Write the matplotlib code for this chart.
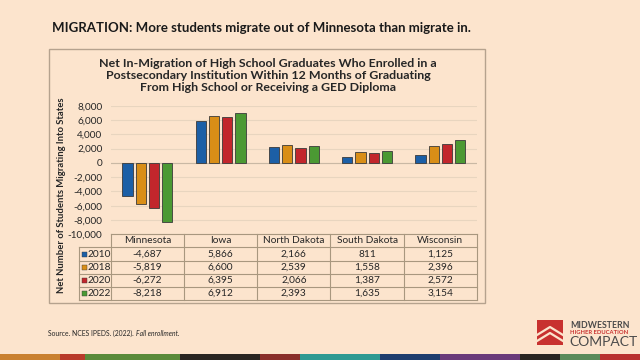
import matplotlib.pyplot as plt
import matplotlib.patches as mpatches
import numpy as np

# dados
states = ['Minnesota', 'Iowa', 'North Dakota', 'South Dakota', 'Wisconsin']
years = ['2010', '2018', '2020', '2022']
v2010 = [-4687, 5866, 2166, 811, 1125]
v2018 = [-5819, 6600, 2539, 1558, 2396]
v2020 = [-6272, 6395, 2066, 1387, 2572]
v2022 = [-8218, 6912, 2393, 1635, 3154]
series = [v2010, v2018, v2020, v2022]
colors = ['#1C5FA6', '#D98E17', '#C2262C', '#4B9933']
yticks = [8000, 6000, 4000, 2000, 0, -2000, -4000, -6000, -8000, -10000]

bg = '#FCE4CD'
txt = '#262626'
line_c = '#A8977F'
W, H = 640, 360

plt.rcParams['font.family'] = ['Lato', 'DejaVu Sans']


def fx(x):
    return x / W


def fy(y):
    return 1 - y / H


fig = plt.figure(figsize=(6.4, 3.6), dpi=100)
fig.patch.set_facecolor(bg)

# titulo do slide
fig.text(fx(52), fy(28), 'MIGRATION: More students migrate out of Minnesota than migrate in.',
         fontsize=9.5, fontweight='bold', color='#1a1a1a', ha='left', va='center')

# caixa do grafico
box = mpatches.Rectangle((fx(49), fy(303)), (485 - 49) / W, (303 - 49) / H,
                         transform=fig.transFigure, facecolor=bg, edgecolor='#B5A28E',
                         linewidth=1.0, zorder=-5)
fig.patches.append(box)

fig.text(fx(268), fy(75.5),
         'Net In-Migration of High School Graduates Who Enrolled in a\n'
         'Postsecondary Institution Within 12 Months of Graduating\n'
         'From High School or Receiving a GED Diploma',
         fontsize=8.9, fontweight='bold', color=txt, ha='center', va='center',
         multialignment='center', linespacing=1.1)

# eixo das barras
left, right = 110.7, 477
top, bottom = 105.7, 234.3
ax = fig.add_axes([fx(left), fy(bottom), (right - left) / W, (bottom - top) / H])
ax.set_facecolor(bg)
x = np.arange(len(states))
step = 0.1815
width = 0.14
for i, vals in enumerate(series):
    ax.bar(x + (i - 1.5) * step, vals, width=width, color=colors[i],
           edgecolor='#3a3a3a', linewidth=0.6, zorder=3)
ax.set_xlim(-0.5, 4.5)
ax.set_ylim(-10000, 8000)
ax.set_yticks(yticks)
ax.set_yticklabels([f'{t:,}' for t in yticks], fontsize=7.2, color=txt)
ax.tick_params(axis='y', length=0, pad=6)
ax.set_xticks([])
ax.grid(axis='y', color='#E8D5BF', linewidth=0.8, zorder=0)
ax.axhline(0, color='#C9B8A4', linewidth=0.8, zorder=2)
for s in ax.spines.values():
    s.set_visible(False)

fig.text(fx(62), fy(195), 'Net Number of Students Migrating Into States',
         rotation=90, fontsize=6.8, fontweight='bold', color=txt, ha='center', va='center')

# tabela de dados
leg_w = (left - 79) / ((right - left) / 5)
tab = fig.add_axes([fx(79), fy(300), (right - 79) / W, (300 - bottom) / H])
tab.set_xlim(-0.5 - leg_w, 4.5)
tab.set_ylim(5, 0)
tab.axis('off')
tab.plot([-0.5, 4.5], [0, 0], color=line_c, lw=0.8, clip_on=False)
for r in range(1, 6):
    tab.plot([-0.5 - leg_w, 4.5], [r, r], color=line_c, lw=0.8, clip_on=False)
tab.plot([-0.5 - leg_w, -0.5 - leg_w], [1, 5], color=line_c, lw=0.8, clip_on=False)
for k in range(-1, 5):
    tab.plot([k + 0.5, k + 0.5], [0, 5], color=line_c, lw=0.8, clip_on=False)
for k, name in enumerate(states):
    tab.text(k, 0.5, name, fontsize=7.3, color=txt, ha='center', va='center')
for i, vals in enumerate(series):
    tab.plot(-0.5 - leg_w + 0.075, i + 1.5, marker='s', markersize=3.6, color=colors[i],
             markeredgecolor='#3a3a3a', markeredgewidth=0.3, clip_on=False)
    tab.text(-0.5 - leg_w + 0.11, i + 1.5, years[i], fontsize=7.3, color=txt,
             ha='left', va='center')
    for k, v in enumerate(vals):
        tab.text(k, i + 1.5, f'{v:,}', fontsize=7.3, color=txt, ha='center', va='center')

# fonte
src = fig.text(fx(48), fy(333), 'Source. NCES IPEDS. (2022). ', fontsize=4.9, color=txt,
               ha='left', va='center')
renderer = fig.canvas.get_renderer()
bb = src.get_window_extent(renderer=renderer)
fig.text(bb.x1 / fig.bbox.width, fy(333), 'Fall enrollment.', fontsize=4.9, color=txt,
         style='italic', ha='left', va='center')

# logo
red = '#C8312F'
fig.patches.append(mpatches.Rectangle((fx(537), fy(345)), 26 / W, 25 / H,
                                      transform=fig.transFigure, facecolor=red,
                                      edgecolor='none'))
for yy in [331, 337]:
    fig.lines.append(plt.Line2D([fx(537), fx(550), fx(563)], [fy(yy + 4), fy(yy - 4), fy(yy + 4)],
                                transform=fig.transFigure, color=bg, lw=1.6))
fig.text(fx(570), fy(326), 'MIDWESTERN', fontsize=6.3, fontweight='bold', color='#4a4a4a',
         ha='left', va='center')
fig.text(fx(570), fy(333), 'HIGHER EDUCATION', fontsize=4.2, fontweight='bold', color=red,
         ha='left', va='center')
fig.text(fx(569), fy(342), 'COMPACT', fontsize=10, color='#4a4a4a', ha='left', va='center')

# faixa colorida inferior
strip = [(0, 60, '#C9802F'), (60, 85, '#B83A2A'), (85, 180, '#5A8A3A'), (180, 260, '#2A2622'),
         (260, 300, '#8A2E2A'), (300, 380, '#2E9A92'), (380, 440, '#1F3D6E'),
         (440, 520, '#6A3A7A'), (520, 560, '#2A2622'), (560, 600, '#5A8A5A'), (600, 640, '#B8302E')]
for x0, x1, c in strip:
    fig.patches.append(mpatches.Rectangle((fx(x0), 0), (x1 - x0) / W, 6 / H,
                                          transform=fig.transFigure, facecolor=c,
                                          edgecolor='none'))

fig.savefig('out.png', dpi=100, facecolor=bg)
